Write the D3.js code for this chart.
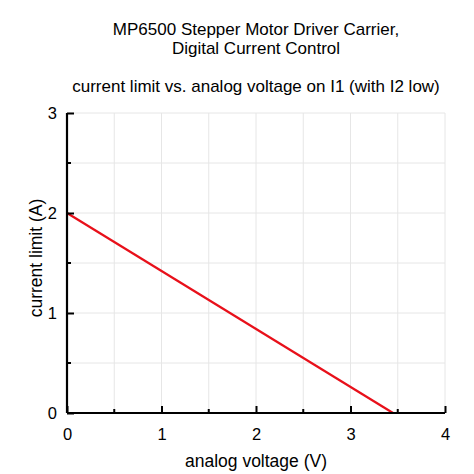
<!DOCTYPE html>
<html>
<head>
<meta charset="utf-8">
<script src="https://cdn.jsdelivr.net/npm/d3@7"></script>
<style>
  body { margin: 0; background: #fff; }
  text { font-family: "Liberation Sans", Arial, sans-serif; fill: #000; }
</style>
</head>
<body>
<svg class="svg" width="474" height="474"></svg>
<script>
let titleLines = ['MP6500 Stepper Motor Driver Carrier,', 'Digital Current Control'];
let subTitle = 'current limit vs. analog voltage on I1 (with I2 low)';
let xLabel = 'analog voltage (V)';
let yLabel = 'current limit (A)';
let xTicks = [0, 1, 2, 3, 4];
let yTicks = [0, 1, 2, 3];
let gridX = [0.5, 1, 1.5, 2, 2.5, 3, 3.5, 4];
let gridY = [0.5, 1, 1.5, 2, 2.5, 3];
let voltage = [0, 3.45];
let current = [2, 0];

let svg = d3.select('.svg');
let x = d3.scaleLinear().domain([0, 4]).range([67, 445]);
let y = d3.scaleLinear().domain([0, 3]).range([413, 113]);

// grid
svg.append('g').selectAll('line').data(gridX).enter().append('line')
    .attr('x1', d => x(d)).attr('x2', d => x(d))
    .attr('y1', y(0)).attr('y2', y(3))
    .style('stroke', '#e6e6e6').style('stroke-width', 1);
svg.append('g').selectAll('line').data(gridY).enter().append('line')
    .attr('x1', x(0)).attr('x2', x(4))
    .attr('y1', d => y(d)).attr('y2', d => y(d))
    .style('stroke', '#e6e6e6').style('stroke-width', 1);

// data line
let line = d3.line().x((d, i) => x(voltage[i])).y((d, i) => y(current[i]));
svg.append('path').datum(voltage)
    .attr('d', line)
    .attr('fill', 'none')
    .attr('stroke', '#e8101a')
    .attr('stroke-width', 2.2);

// axes (ticks point inward)
let xAxis = d3.axisBottom(x).tickValues(xTicks).tickSize(-7).tickPadding(15).tickFormat(d3.format('d'));
let yAxis = d3.axisLeft(y).tickValues(yTicks).tickSize(-7).tickPadding(10).tickFormat(d3.format('d'));

let gx = svg.append('g').attr('transform', 'translate(0,' + y(0) + ')').call(xAxis);
let gy = svg.append('g').attr('transform', 'translate(' + x(0) + ',0)').call(yAxis);

[gx, gy].forEach(function (g) {
    g.select('.domain').attr('stroke', '#000').attr('stroke-width', 2.2);
    g.selectAll('.tick line').attr('stroke', '#000').attr('stroke-width', 2);
    g.selectAll('.tick text').style('font-size', '16.5px').style('font-family', '"Liberation Sans", Arial, sans-serif');
});
gx.select('.domain').attr('d', 'M' + x(0) + ',0H' + x(4));
gy.select('.domain').attr('d', 'M0,' + y(0) + 'V' + y(3));

// minor ticks
svg.append('g').selectAll('line').data([0.5, 1.5, 2.5, 3.5]).enter().append('line')
    .attr('x1', d => x(d)).attr('x2', d => x(d))
    .attr('y1', y(0)).attr('y2', y(0) - 4)
    .style('stroke', '#000').style('stroke-width', 2);
svg.append('g').selectAll('line').data([0.5, 1.5, 2.5]).enter().append('line')
    .attr('x1', x(0)).attr('x2', x(0) + 4)
    .attr('y1', d => y(d)).attr('y2', d => y(d))
    .style('stroke', '#000').style('stroke-width', 2);

// titles
svg.selectAll('.title').data(titleLines).enter().append('text')
    .attr('class', 'title')
    .attr('x', 256).attr('y', (d, i) => 35 + i * 18.5)
    .attr('text-anchor', 'middle')
    .style('font-size', '17px')
    .text(d => d);
svg.append('text')
    .attr('x', 256).attr('y', 92)
    .attr('text-anchor', 'middle')
    .style('font-size', '17px')
    .text(subTitle);

svg.append('text')
    .attr('x', 256).attr('y', 467)
    .attr('text-anchor', 'middle')
    .style('font-size', '17.5px')
    .text(xLabel);
svg.append('text')
    .attr('transform', 'translate(42,258) rotate(-90)')
    .attr('text-anchor', 'middle')
    .style('font-size', '17.5px')
    .text(yLabel);
</script>
</body>
</html>
